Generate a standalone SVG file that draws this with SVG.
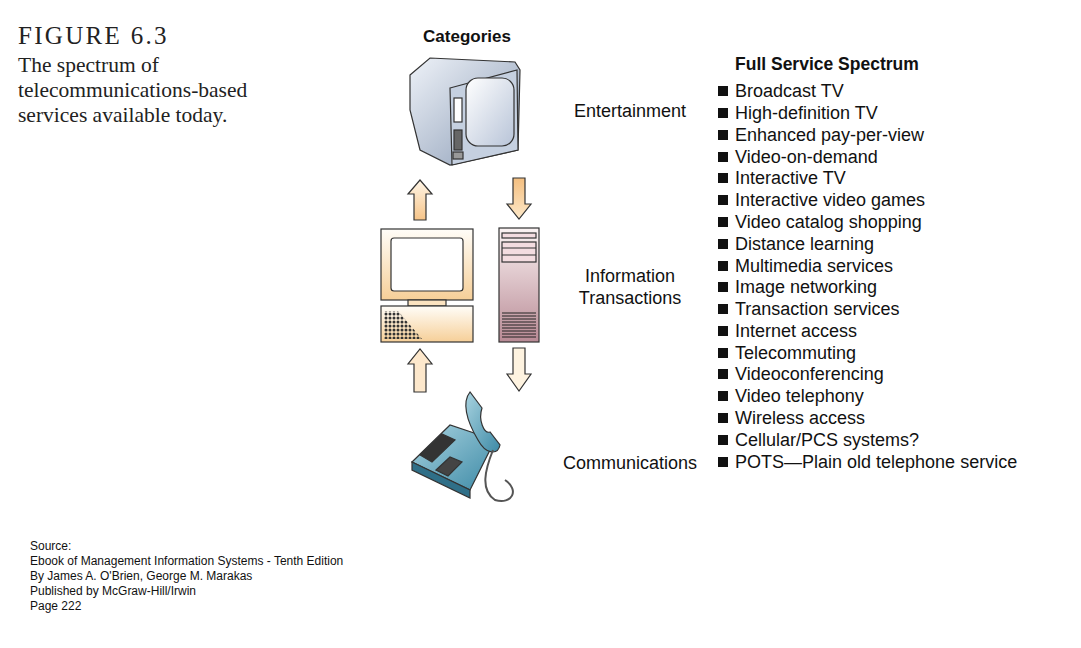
<svg xmlns="http://www.w3.org/2000/svg" width="1081" height="648" viewBox="0 0 1081 648">
<style>
.s{font-family:"Liberation Serif",serif;fill:#222}
.a{font-family:"Liberation Sans",Arial,sans-serif;fill:#111}
.li{font-size:18px}
.bul{fill:#111}
.o{stroke:#333;stroke-width:1.2}
</style>
<defs>
<linearGradient id="tv" x1="0" y1="0" x2="1" y2="1"><stop offset="0" stop-color="#eef2f8"/><stop offset="1" stop-color="#8a9bb5"/></linearGradient>
<linearGradient id="scr" x1="0" y1="0" x2="1" y2="1"><stop offset="0" stop-color="#ffffff"/><stop offset="1" stop-color="#b8c4d8"/></linearGradient>
<linearGradient id="pc" x1="0" y1="0" x2="0" y2="1"><stop offset="0" stop-color="#fffdf8"/><stop offset="1" stop-color="#f6cf98"/></linearGradient>
<linearGradient id="tw" x1="0" y1="0" x2="0" y2="1"><stop offset="0" stop-color="#fbf3f3"/><stop offset="1" stop-color="#b88a95"/></linearGradient>
<linearGradient id="ar" x1="0" y1="0" x2="0" y2="1"><stop offset="0" stop-color="#fff6e8"/><stop offset="1" stop-color="#f6c488"/></linearGradient>
<linearGradient id="ar2" x1="0" y1="0" x2="0" y2="1"><stop offset="0" stop-color="#f4bf80"/><stop offset="1" stop-color="#fde8c8"/></linearGradient>
<linearGradient id="ph" x1="0" y1="0" x2="1" y2="1"><stop offset="0" stop-color="#a9d3e0"/><stop offset="1" stop-color="#3d8aa6"/></linearGradient>
<pattern id="dots" width="4" height="4" patternUnits="userSpaceOnUse"><circle cx="2" cy="2" r="1.5" fill="#333"/></pattern>
</defs>
<text class="s" x="18" y="44" font-size="25" letter-spacing="2.3">FIGURE 6.3</text>
<text class="s" x="18" y="72" font-size="21.5">The spectrum of</text>
<text class="s" x="18" y="97" font-size="21.5">telecommunications-based</text>
<text class="s" x="18" y="122" font-size="21.5">services available today.</text>
<text class="a" x="467" y="42" font-size="17" font-weight="bold" text-anchor="middle">Categories</text>
<text class="a" x="735" y="70" font-size="17.5" font-weight="bold">Full Service Spectrum</text>
<text class="a li" x="630" y="117" text-anchor="middle">Entertainment</text>
<text class="a li" x="630" y="282" text-anchor="middle">Information</text>
<text class="a li" x="630" y="304" text-anchor="middle">Transactions</text>
<text class="a li" x="630" y="469" text-anchor="middle">Communications</text>
<g id="list">
<g class="bul">
<rect x="718" y="86" width="10" height="10"/><rect x="718" y="108" width="10" height="10"/><rect x="718" y="130" width="10" height="10"/><rect x="718" y="152" width="10" height="10"/><rect x="718" y="173" width="10" height="10"/><rect x="718" y="195" width="10" height="10"/><rect x="718" y="217" width="10" height="10"/><rect x="718" y="239" width="10" height="10"/><rect x="718" y="261" width="10" height="10"/><rect x="718" y="282" width="10" height="10"/><rect x="718" y="304" width="10" height="10"/><rect x="718" y="326" width="10" height="10"/><rect x="718" y="348" width="10" height="10"/><rect x="718" y="369" width="10" height="10"/><rect x="718" y="391" width="10" height="10"/><rect x="718" y="413" width="10" height="10"/><rect x="718" y="435" width="10" height="10"/><rect x="718" y="457" width="10" height="10"/>
</g>
<g class="a li">
<text x="735" y="97">Broadcast TV</text>
<text x="735" y="119">High-definition TV</text>
<text x="735" y="141">Enhanced pay-per-view</text>
<text x="735" y="163">Video-on-demand</text>
<text x="735" y="184">Interactive TV</text>
<text x="735" y="206">Interactive video games</text>
<text x="735" y="228">Video catalog shopping</text>
<text x="735" y="250">Distance learning</text>
<text x="735" y="272">Multimedia services</text>
<text x="735" y="293">Image networking</text>
<text x="735" y="315">Transaction services</text>
<text x="735" y="337">Internet access</text>
<text x="735" y="359">Telecommuting</text>
<text x="735" y="380">Videoconferencing</text>
<text x="735" y="402">Video telephony</text>
<text x="735" y="424">Wireless access</text>
<text x="735" y="446">Cellular/PCS systems?</text>
<text x="735" y="468">POTS—Plain old telephone service</text>
</g>
</g>
<g id="tvnode">
<path class="o" d="M410 75 L430 58 L515 62 L520 70 L518 150 L450 165 L420 150 L410 110 Z" fill="url(#tv)"/>
<path class="o" d="M450 88 L517 70 L518 150 L452 165 Z" fill="#c5d0e0"/>
<rect class="o" x="466" y="78" width="48" height="68" rx="12" fill="url(#scr)"/>
<rect class="o" x="454" y="98" width="8" height="24" fill="#fff"/>
<rect class="o" x="454" y="130" width="8" height="20" fill="#666"/>
<rect class="o" x="453" y="152" width="10" height="7" fill="#999"/>
</g>
<g id="computer">
<rect class="o" x="381" y="229" width="92" height="71" fill="url(#pc)"/>
<rect class="o" x="391" y="238" width="72" height="53" rx="3" fill="#fff"/>
<rect class="o" x="408" y="300" width="38" height="6" fill="#fbe3c0"/>
<rect class="o" x="381" y="306" width="92" height="36" fill="url(#pc)"/>
<path d="M384 311 L398 311 L422 339 L384 339 Z" fill="url(#dots)"/>
</g>
<g id="tower">
<rect class="o" x="499" y="228" width="40" height="114" fill="url(#tw)"/>
<rect class="o" x="502" y="233" width="34" height="5" fill="#f3dce0"/>
<rect class="o" x="502" y="242" width="34" height="20" fill="#f3dce0"/>
<line class="o" x1="502" y1="248" x2="536" y2="248"/><line class="o" x1="502" y1="255" x2="536" y2="255"/>
<g stroke="#222" stroke-width="1.2"><line x1="502" y1="313" x2="536" y2="313"/><line x1="502" y1="316" x2="536" y2="316"/><line x1="502" y1="319" x2="536" y2="319"/><line x1="502" y1="322" x2="536" y2="322"/><line x1="502" y1="325" x2="536" y2="325"/><line x1="502" y1="328" x2="536" y2="328"/><line x1="502" y1="331" x2="536" y2="331"/><line x1="502" y1="334" x2="536" y2="334"/><line x1="502" y1="337" x2="536" y2="337"/></g>
</g>
<g id="phone">
<path class="o" d="M412 462 L450 425 L495 440 L470 490 Z" fill="url(#ph)"/>
<path class="o" d="M412 462 L470 490 L470 498 L412 470 Z" fill="#2f6f88"/>
<path class="o" d="M420 455 L442 434 L455 440 L432 462 Z" fill="#333"/>
<path class="o" d="M436 470 L450 457 L462 462 L448 476 Z" fill="#444"/>
<path class="o" d="M470 392 C462 402 466 420 478 440 C486 455 498 455 500 445 L490 432 C484 434 478 420 482 408 Z" fill="url(#ph)"/>
<path d="M493 450 C485 470 480 490 495 500 C512 505 520 490 505 480" fill="none" stroke="#555" stroke-width="2"/>
</g>
<g id="connectors" class="o">
<path d="M414 220 L426 220 L426 194 L432 194 L420 180 L408 194 L414 194 Z" fill="url(#ar)"/>
<path d="M513 178 L525 178 L525 204 L531 204 L519 219 L507 204 L513 204 Z" fill="url(#ar2)"/>
<path d="M414 392 L426 392 L426 364 L432 364 L420 349 L408 364 L414 364 Z" fill="#fde8cc"/>
<path d="M513 348 L525 348 L525 374 L531 374 L519 391 L507 374 L513 374 Z" fill="#fef3e0"/>
</g>
<g class="a" font-size="12">
<text x="30" y="550">Source:</text>
<text x="30" y="565">Ebook of Management Information Systems - Tenth Edition</text>
<text x="30" y="580">By James A. O'Brien, George M. Marakas</text>
<text x="30" y="595">Published by McGraw-Hill/Irwin</text>
<text x="30" y="610">Page 222</text>
</g>
</svg>
